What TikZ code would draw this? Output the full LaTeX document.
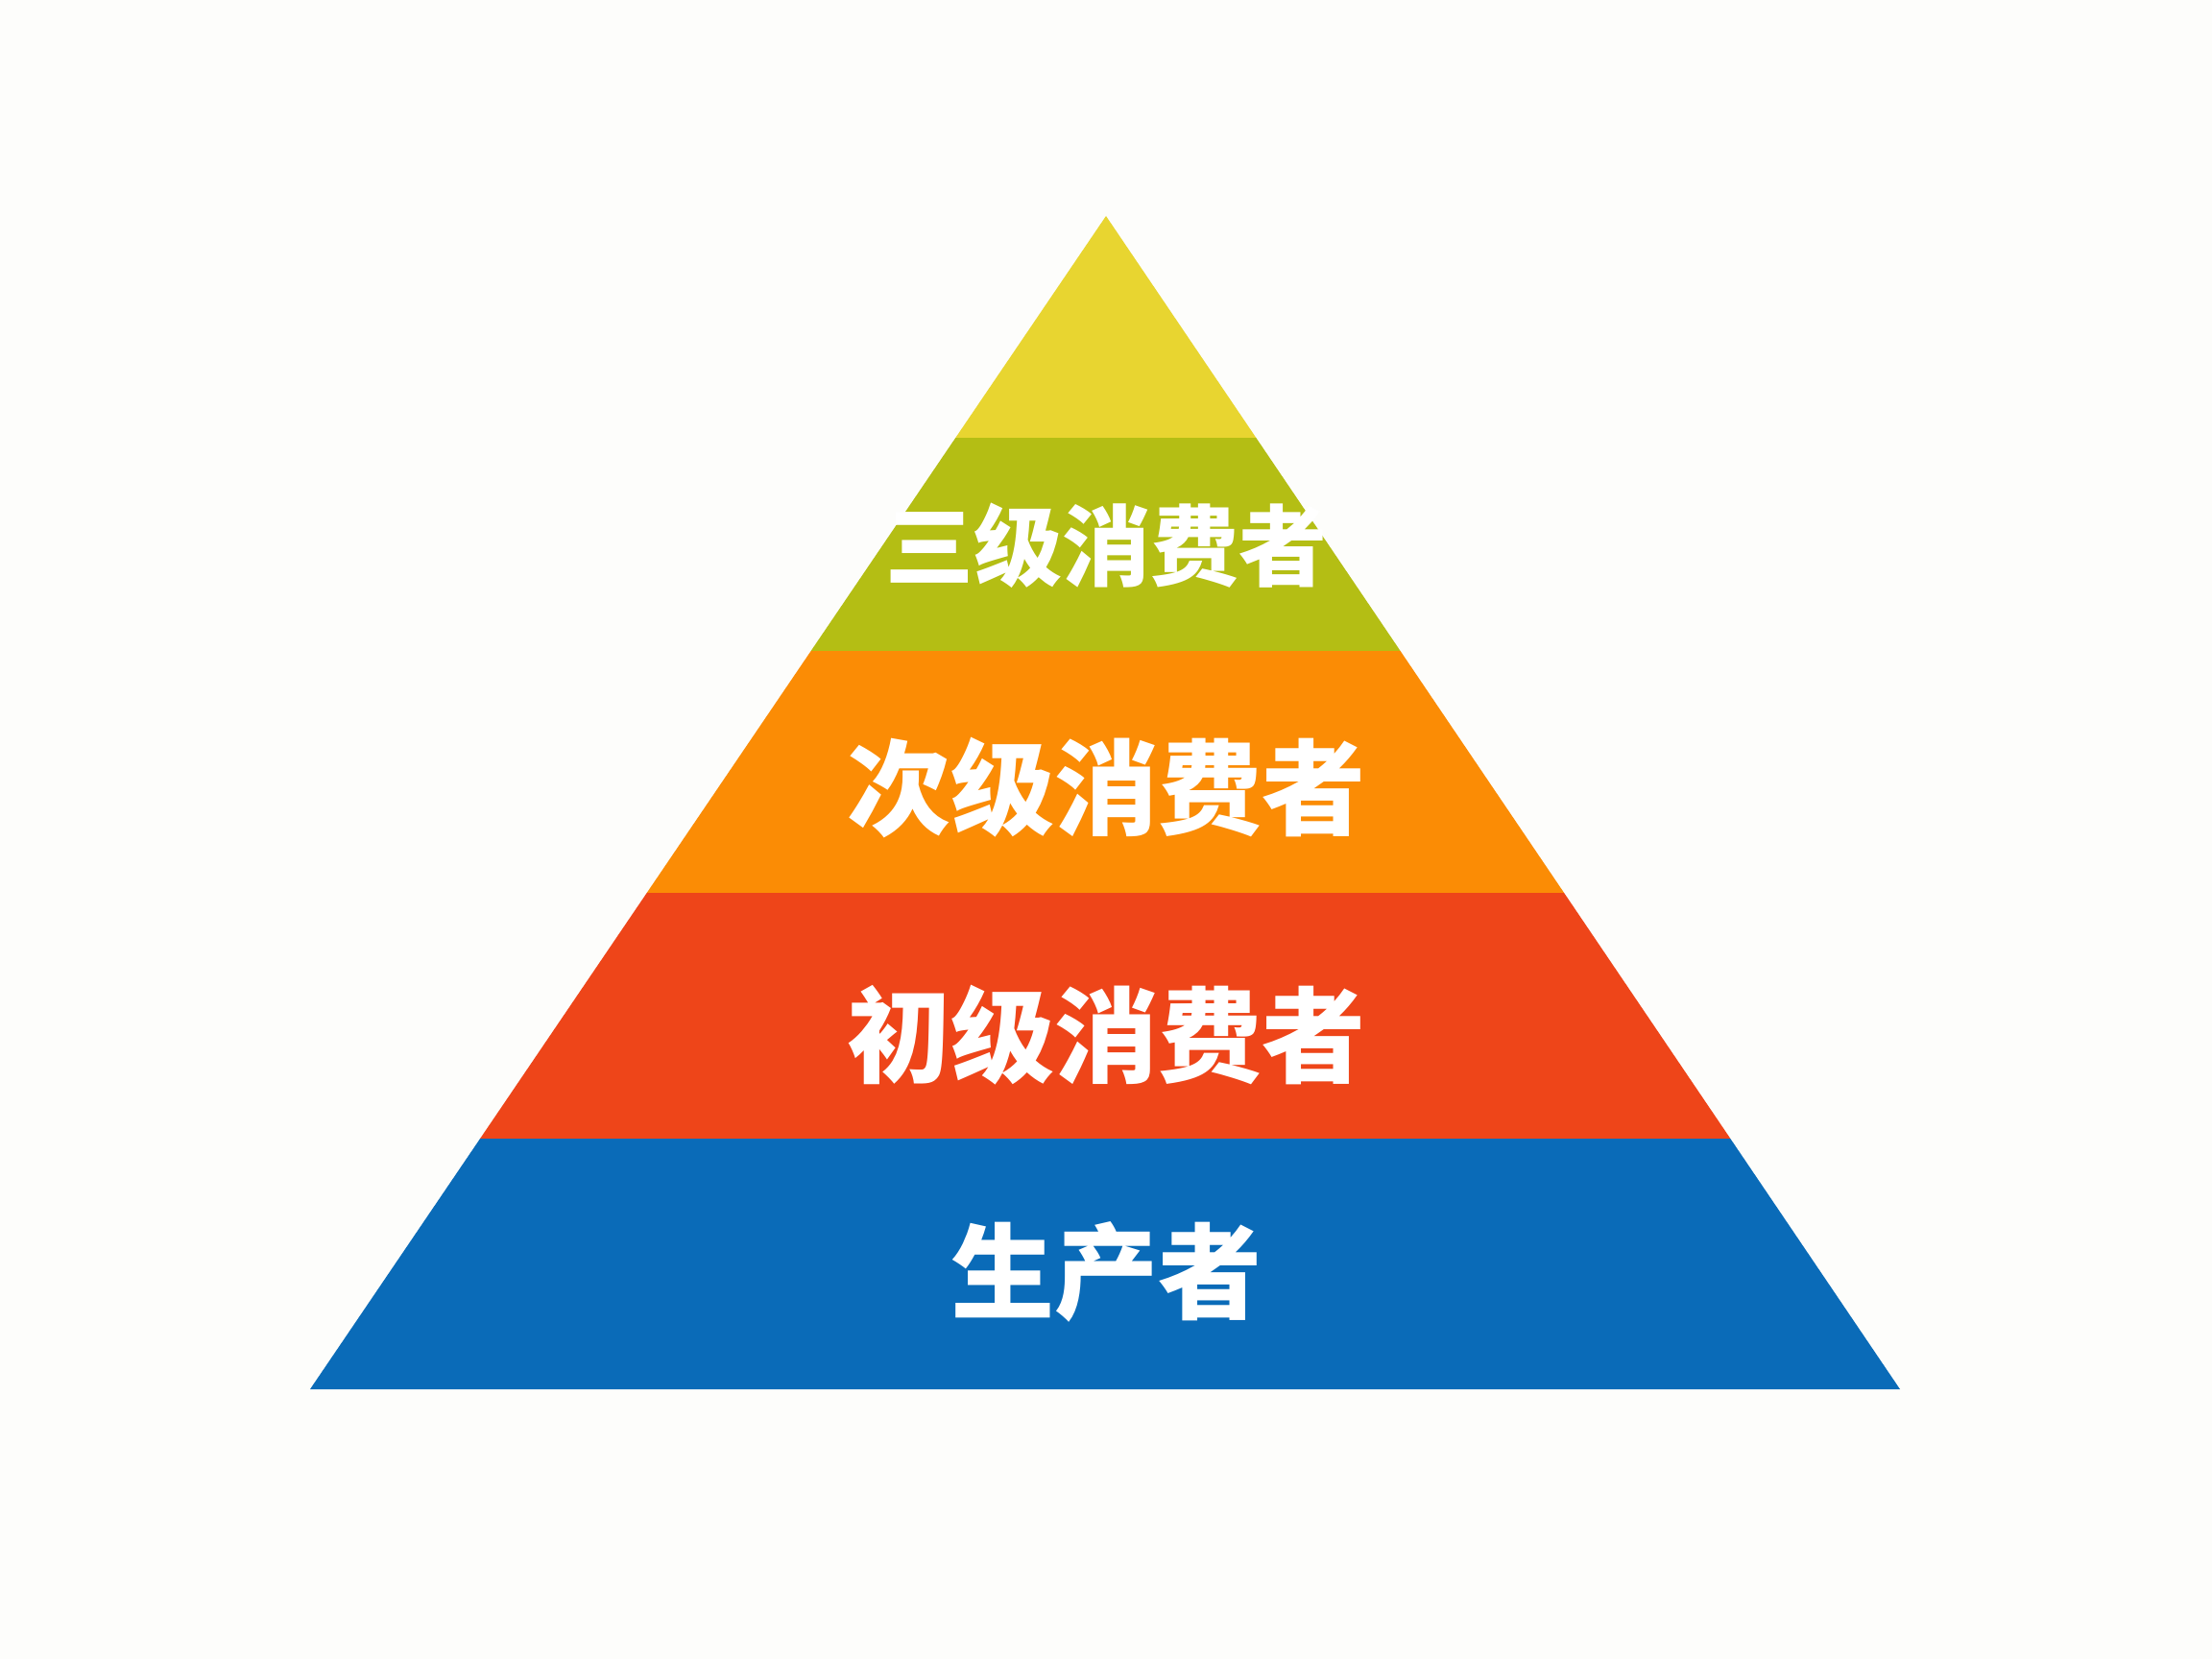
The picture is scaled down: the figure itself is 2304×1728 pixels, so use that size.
\documentclass[tikz,border=0pt]{standalone}
\usepackage{fontspec}
\newfontfamily\cjk{Noto Sans CJK SC}
\definecolor{bgc}{HTML}{FDFDFB}
\definecolor{tyellow}{HTML}{E8D530}
\definecolor{tolive}{HTML}{B4BE14}
\definecolor{torange}{HTML}{FB8C05}
\definecolor{tred}{HTML}{EE4519}
\definecolor{tblue}{HTML}{0A6BB8}
\tikzset{
  tierlabel/.style={text=white,font=\cjk\bfseries\fontsize{54}{60}\selectfont,inner sep=0pt,anchor=center},
  toplabel/.style={tierlabel,font=\cjk\bfseries\fontsize{46}{52}\selectfont}
}
\begin{document}
\begin{tikzpicture}[x=0.5pt,y=-0.5pt]
\fill[bgc] (0,0) rectangle (2304,1728);
\useasboundingbox (0,0) rectangle (2304,1728);
\coordinate (apex) at (1152,225);
\coordinate (bl) at (323,1447);
\coordinate (br) at (1979,1447);
\begin{scope}
\clip (apex) -- (bl) -- (br) -- cycle;
\fill[tyellow] (300,200) rectangle (2000,456);
\fill[tolive] (300,456) rectangle (2000,678);
\fill[torange] (300,678) rectangle (2000,930);
\fill[tred] (300,930) rectangle (2000,1186);
\fill[tblue] (300,1186) rectangle (2000,1460);
\end{scope}
\node[toplabel] (tert) at (1152,568) {三级消费者};
\node[tierlabel] (sec) at (1152,821) {次级消费者};
\node[tierlabel] (prim) at (1152,1078) {初级消费者};
\node[tierlabel] (prod) at (1152,1325) {生产者};
\end{tikzpicture}
\end{document}
